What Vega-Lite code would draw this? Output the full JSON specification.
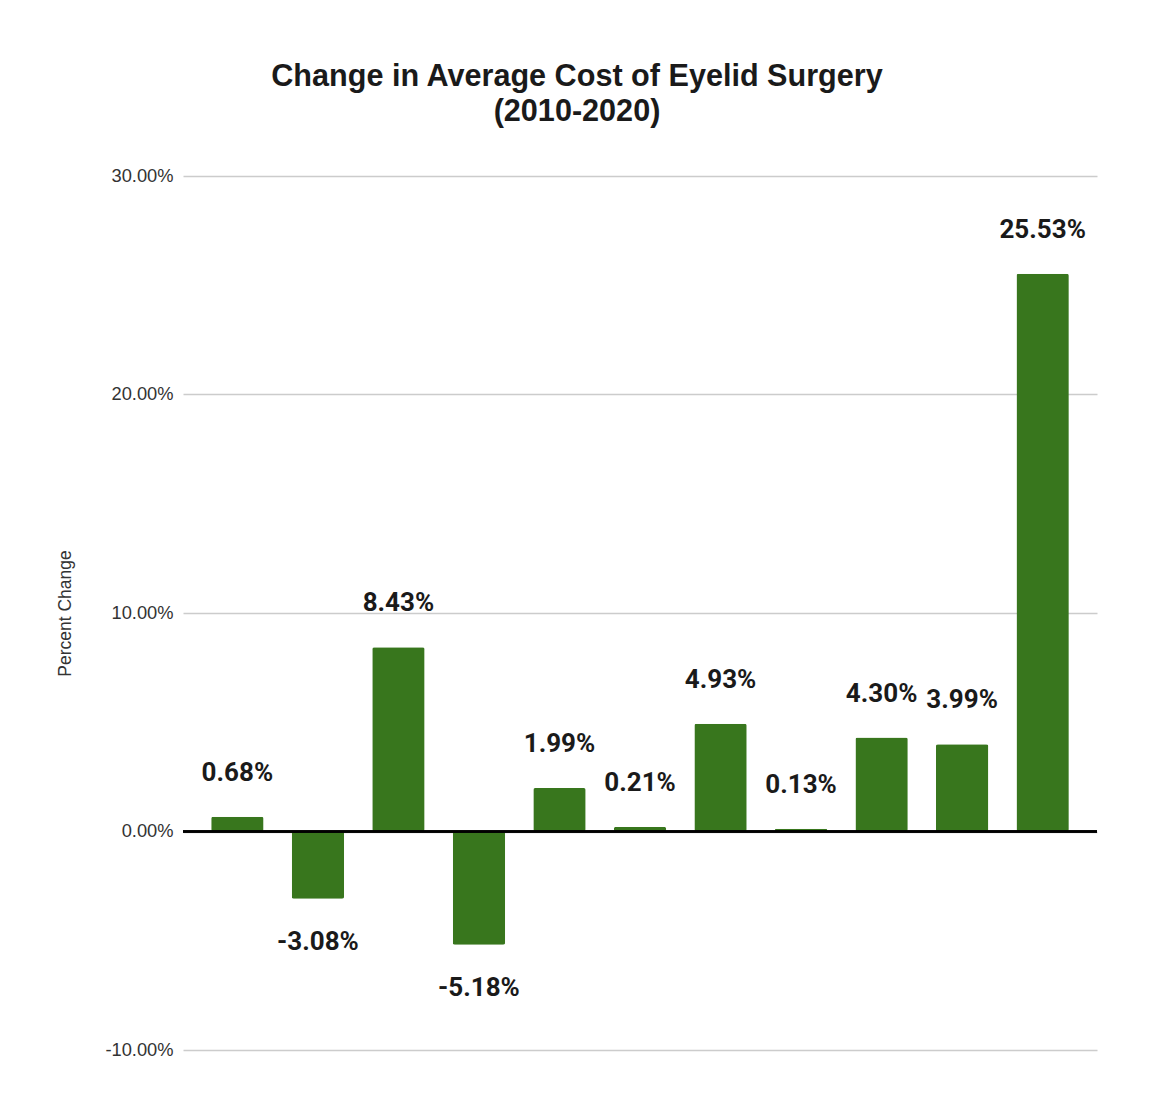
{
  "$schema": "https://vega.github.io/schema/vega-lite/v6.json",
  "width": 914,
  "height": 874,
  "autosize": "none",
  "padding": {"left": 183, "top": 176, "right": 55, "bottom": 67},
  "background": "white",
  "title": {
    "text": ["Change in Average Cost of Eyelid Surgery", "(2010-2020)"],
    "font": "Liberation Sans",
    "fontSize": 30.6,
    "fontWeight": "bold",
    "color": "#1a1a1a",
    "lineHeight": 35,
    "anchor": "middle",
    "frame": "group",
    "dx": -63,
    "offset": 38
  },
  "config": {
    "view": {"stroke": null},
    "axis": {
      "labelFont": "Liberation Sans",
      "titleFont": "Liberation Sans"
    }
  },
  "data": {
    "values": [
      {"year": "2010", "change": 0.0068},
      {"year": "2011", "change": -0.0308},
      {"year": "2012", "change": 0.0843},
      {"year": "2013", "change": -0.0518},
      {"year": "2014", "change": 0.0199},
      {"year": "2015", "change": 0.0021},
      {"year": "2016", "change": 0.0493},
      {"year": "2017", "change": 0.0013},
      {"year": "2018", "change": 0.043},
      {"year": "2019", "change": 0.0399},
      {"year": "2020", "change": 0.2553}
    ]
  },
  "transform": [
    {"calculate": "replace(format(datum.change, '.2%'), '\u2212', '-')", "as": "label"}
  ],
  "encoding": {
    "x": {
      "field": "year",
      "type": "ordinal",
      "axis": null,
      "scale": {"paddingInner": 0.35, "paddingOuter": 0.35}
    },
    "y": {
      "field": "change",
      "type": "quantitative",
      "scale": {"domain": [-0.1, 0.3], "nice": false},
      "axis": {
        "title": "Percent Change",
        "labelExpr": "replace(format(datum.value, '.2%'), '\u2212', '-')",
        "values": [-0.1, 0, 0.1, 0.2, 0.3],
        "labelFontSize": 18.3,
        "labelColor": "#333333",
        "labelPadding": 10,
        "titleFontSize": 17.5,
        "titleFontWeight": "normal",
        "titleColor": "#333333",
        "titlePadding": 30,
        "ticks": false,
        "domain": false,
        "gridColor": "#cccccc",
        "gridWidth": 1.5
      }
    }
  },
  "layer": [
    {
      "mark": {"type": "bar", "color": "#38761d", "cornerRadius": 2}
    },
    {
      "mark": {"type": "rule", "color": "#000000", "strokeWidth": 1.5},
      "encoding": {"x": null, "y": {"datum": 0}}
    },
    {
      "transform": [{"filter": "datum.change >= 0"}],
      "mark": {"type": "text", "baseline": "bottom", "dy": -31, "font": "Roboto", "fontSize": 26, "fontWeight": "bold", "color": "#1a1a1a"},
      "encoding": {"text": {"field": "label"}}
    },
    {
      "transform": [{"filter": "datum.change < 0"}],
      "mark": {"type": "text", "baseline": "top", "dy": 30, "font": "Roboto", "fontSize": 26, "fontWeight": "bold", "color": "#1a1a1a"},
      "encoding": {"text": {"field": "label"}}
    }
  ]
}
